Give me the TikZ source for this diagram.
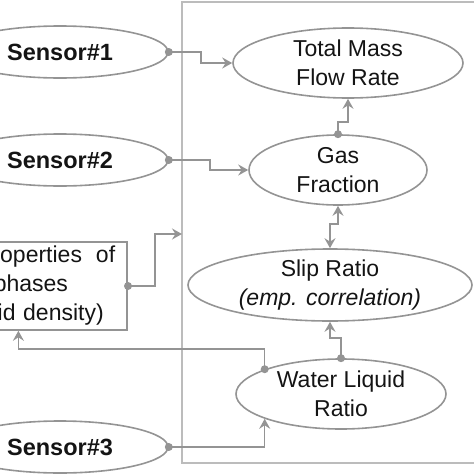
\documentclass[tikz,border=0pt]{standalone}
\usepackage{fontspec}
\setmainfont{Liberation Sans}
\usetikzlibrary{shapes.geometric,arrows.meta}
\definecolor{linegray}{RGB}{148,148,148}
\definecolor{framegray}{RGB}{188,188,188}
\definecolor{textgray}{RGB}{20,20,20}
\begin{document}
\begin{tikzpicture}[x=1pt, y=-1pt, line width=1.6pt, >={Stealth[length=10pt,width=11pt,inset=3.5pt]},
  flow node/.style={ellipse,draw=linegray,inner sep=0pt},
  sensor node/.style={flow node,minimum width=216pt,minimum height=52pt},
  flow text/.style={align=center,font=\fontsize{23}{29}\selectfont,text=textgray},
  link/.style={draw=linegray,->},
  tap/.style={fill=linegray}]
\useasboundingbox (0,0) rectangle (474,474);
%model frame, right side runs off the page
\draw[framegray, line width=2pt] (182,2) rectangle (530,463);
\begin{scope}[every node/.style={font=\fontsize{23.5}{28}\selectfont\bfseries,text=textgray}]
\node[sensor node] (s1) at (60,52) {Sensor\#1};
\node[sensor node] (s2) at (60,160) {Sensor\#2};
\node[sensor node] (s3) at (60,447) {Sensor\#3};
\end{scope}
\begin{scope}
\node[flow node,minimum width=230pt,minimum height=70pt] (tmfr) at (348,63) {};
\node[flow text] (tmfr text) at (tmfr) {Total Mass\\Flow Rate};
\node[flow node,minimum width=178pt,minimum height=70pt] (gf) at (338,170) {};
\node[flow text] (gf text) at (gf) {Gas\\Fraction};
\node[flow node,minimum width=284pt,minimum height=72pt] (sr) at (330,285) {};
\node[flow text] (sr text) at (sr) {Slip Ratio\\\textit{(emp. correlation)}};
\node[flow node,minimum width=210pt,minimum height=70pt] (wlr) at (341,394) {};
\node[flow text] (wlr text) at (wlr) {Water Liquid\\Ratio};
\node[flow text,align=left,draw=linegray,anchor=east,text width=168pt,inner xsep=5pt,inner ysep=4pt,minimum height=88pt] (props) at (128,286)
  {\hspace*{23pt}Properties\hspace{14pt}of\\the phases\\(liquid density)};
\coordinate (props in) at ([xshift=70pt]props.south west);
\coordinate (frame in) at (182,234);
%\node[flow node] (n) at (,) {};
\end{scope}
\begin{scope}
\draw[link] (s1.east) -- ++(32,0) |- (tmfr.west);
\draw[link] (s2.east) -- ++(41,0) |- (gf.west);
\draw[link] (s3.east) -| (wlr.198);
\draw[link] (props.east) -- ++(27,0) |- (frame in);
\draw[link] (wlr.162) -- ++(0,-20) -| (props in);
\draw[link] (gf.north) -- ++(0,-12) -| (tmfr.south);
\draw[link,<->] (gf.south) -- ++(0,18) -| (sr.north);
\draw[link] (wlr.north) -- ++(0,-20) -| (sr.south);
%\draw[link] (a) -- (b);
\end{scope}
\foreach \p in {s1.east,s2.east,s3.east,props.east,gf.north,wlr.north,wlr.162}
  \fill[tap] (\p) circle (4pt);
\end{tikzpicture}
\end{document}
